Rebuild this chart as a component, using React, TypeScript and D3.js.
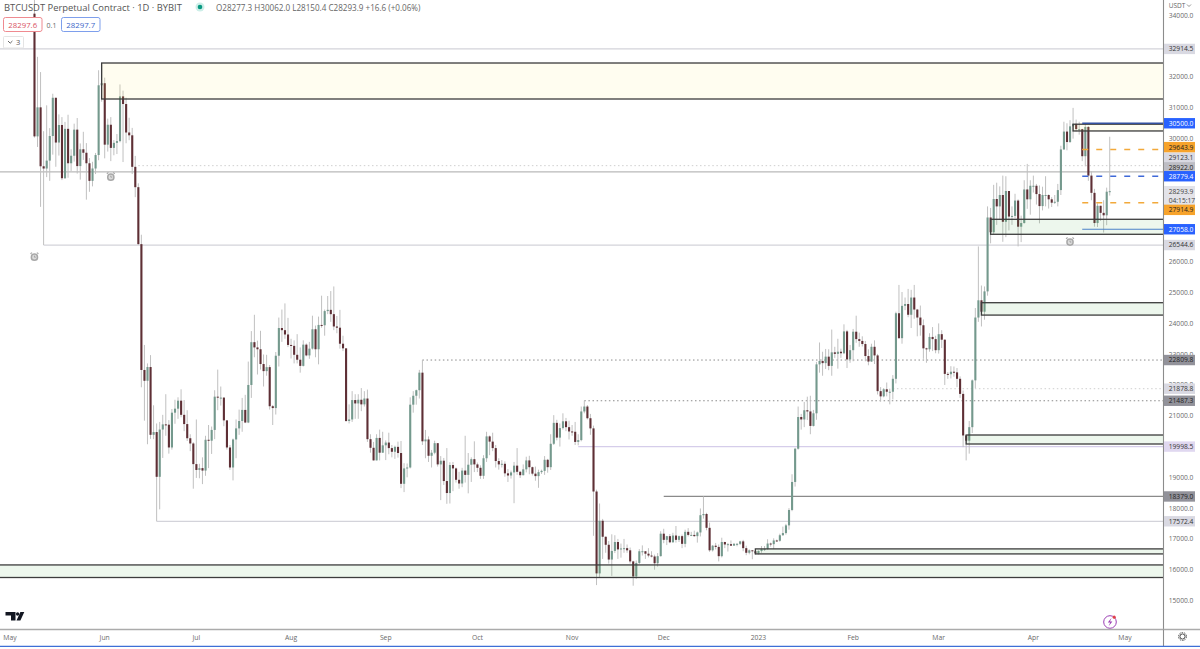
import * as d3 from "d3"

type Bar = [number, number, number] // high, low, close

const firstOpen = 34060
const firstBarDate = new Date(Date.UTC(2022, 4, 9))

const may22: Bar[] = [
  [34800, 30033, 30074], [32658, 29730, 31017], [32162, 27785, 29103], [30243, 26544.6, 29030], [31083, 28751, 29287],
  [30343, 28630, 30086], [31460, 29480, 31328], [31328, 29087, 29874], [30788, 29450, 30444], [30700, 28654, 28715],
  [30545, 28691, 30319], [30777, 28730, 29201], [29656, 28947, 29445], [30487, 29255, 30293], [30670, 28866, 29109],
  [29845, 28669, 29655], [30223, 29310, 29542], [29856, 28019, 29201], [29370, 28273, 28629], [29250, 28450, 29031],
  [29536, 28850, 29468], [32222, 29299, 31734], [32399, 31200, 31801],
]
const jun22: Bar[] = [
  [31982, 29360, 29805], [30650, 29580, 30452], [30700, 29270, 29700], [29955, 29460, 29864], [30150, 29500, 29920],
  [31760, 29880, 31373], [31560, 29240, 31125], [31330, 29850, 30200], [30680, 29950, 30109], [30350, 28850, 29085],
  [29440, 28100, 28424], [28550, 26560, 26574], [26880, 21925, 22487], [23300, 20840, 22136], [22700, 20075, 22583],
  [22970, 20250, 20381], [21340, 20240, 20471], [20750, 17572.4, 19017], [20800, 17960, 20553], [21030, 19630, 20720],
  [21700, 20350, 20710], [20860, 19770, 19970], [21220, 19900, 21100], [21520, 20740, 21230], [21600, 20900, 21490],
  [21860, 20950, 21030], [21510, 20500, 20730], [21180, 20180, 20270], [20400, 19850, 20100], [20140, 18630, 19430],
]
const jul22: Bar[] = [
  [20880, 18980, 19240], [19440, 18970, 19300], [19650, 18780, 19220], [20350, 19050, 20220], [20700, 19300, 20190],
  [20650, 19760, 20540], [21830, 20240, 21620], [22500, 21180, 21590], [21950, 21330, 21590], [21600, 20660, 20850],
  [20860, 19900, 19970], [20050, 19240, 19320], [20260, 18900, 20230], [20880, 19620, 20590], [21200, 20380, 20830],
  [21580, 20480, 21190], [21680, 20760, 20780], [22760, 20760, 22000], [23750, 21580, 23390], [24280, 22900, 23220],
  [23440, 22340, 23160], [23760, 22500, 22680], [22990, 21950, 22450], [22980, 22300, 22580], [22650, 21200, 21310],
  [21350, 20700, 21250], [23070, 21040, 22950], [24190, 22600, 23850], [24450, 23400, 23780], [24650, 23500, 23640],
  [24180, 23230, 23300],
]
const aug22: Bar[] = [
  [23500, 22860, 23270], [23450, 22700, 22980], [23650, 22700, 22820], [23220, 22400, 22620], [23450, 22600, 23310],
  [23350, 22930, 22960], [23400, 22850, 23180], [24250, 23150, 23810], [23930, 22900, 23160], [24220, 22670, 23950],
  [24900, 23860, 23940], [24450, 23600, 24400], [24890, 24300, 24440], [25050, 24050, 24300], [25200, 23780, 23900],
  [24240, 23680, 23860], [24440, 23180, 23340], [23600, 23100, 23190], [23190, 20800, 20830], [21370, 20750, 20880],
  [21800, 20800, 21510], [21700, 20900, 21400], [21700, 20900, 21520], [21900, 21150, 21370], [21800, 21300, 21560],
  [21850, 20150, 20240], [20400, 19800, 19960], [20150, 19550, 19550], [20400, 19550, 20280], [20550, 19550, 19800],
  [20480, 19800, 20040],
]
const sep22: Bar[] = [
  [20200, 19560, 20130], [20450, 19750, 19950], [20050, 19650, 19830], [20030, 19600, 19990], [20160, 19640, 19790],
  [20180, 18650, 18790], [19460, 18520, 19290], [19450, 19000, 19320], [21600, 19290, 21360], [21800, 21100, 21650],
  [21850, 21360, 21830], [22490, 21560, 22400], [22809.8, 20050, 20170], [20540, 19620, 20230], [20330, 19500, 19700],
  [19890, 19320, 19800], [20190, 19750, 20110], [20110, 19350, 19420], [19690, 18260, 19540], [19630, 18750, 18880],
  [19950, 18140, 18490], [19490, 18150, 19400], [19500, 18550, 19290], [19320, 18830, 18920], [19180, 18630, 18800],
  [19310, 18680, 19220], [20350, 18830, 19080], [19790, 18480, 19410], [19650, 18850, 19590], [20170, 19170, 19420],
]
const oct22: Bar[] = [
  [19480, 19170, 19310], [19390, 18950, 19050], [19720, 18950, 19620], [20480, 19500, 20330], [20360, 19720, 20160],
  [20450, 19850, 19950], [20050, 19320, 19530], [19620, 19250, 19420], [19560, 19320, 19440], [19520, 19020, 19130],
  [19270, 18850, 19060], [19220, 18960, 19160], [19500, 18160, 19380], [19950, 19080, 19180], [19210, 18980, 19070],
  [19420, 19060, 19260], [19670, 19160, 19550], [19700, 19100, 19330], [19350, 19060, 19120], [19350, 18890, 19040],
  [19250, 18660, 19170], [19250, 19110, 19210], [19690, 19080, 19570], [19600, 19150, 19330], [20400, 19240, 20090],
  [21020, 20050, 20770], [20870, 20200, 20290], [20750, 20000, 20600], [21080, 20550, 20820], [20930, 20500, 20630],
  [20840, 20230, 20490],
]
const nov22: Bar[] = [
  [20700, 20350, 20480], [20800, 20050, 20150], [20400, 20040, 20210], [21300, 20170, 21140], [21487.3, 21080, 21300],
  [21350, 20880, 20920], [21060, 20380, 20590], [20680, 17100, 18540], [18600, 15500, 15880], [18150, 15730, 17590],
  [17650, 16350, 17070], [17080, 16550, 16810], [16930, 16200, 16330], [17150, 15800, 16610], [17120, 16540, 16900],
  [17000, 16350, 16660], [16850, 16390, 16690], [17000, 16550, 16700], [16820, 16550, 16630], [16720, 16200, 16270],
  [16290, 15480, 15780], [16300, 15700, 16220], [16670, 16180, 16600], [16790, 16460, 16600], [16600, 16350, 16520],
  [16700, 16400, 16460], [16600, 16400, 16430], [16490, 16000, 16210], [16540, 16100, 16440], [17250, 16430, 17170],
]
const dec22: Bar[] = [
  [17330, 16860, 16970], [17100, 16800, 17090], [17160, 16860, 16890], [17200, 16880, 17110], [17420, 16880, 16970],
  [17110, 16900, 17090], [17140, 16700, 16840], [17300, 16730, 17230], [17350, 17080, 17130], [17230, 17090, 17130],
  [17270, 17070, 17090], [17240, 16880, 17210], [17990, 17080, 17770], [18379, 17660, 17810], [17850, 17280, 17360],
  [17530, 16580, 16630], [16800, 16590, 16780], [16870, 16660, 16740], [16820, 16270, 16440], [17040, 16400, 16900],
  [16910, 16700, 16820], [16870, 16590, 16830], [16950, 16780, 16780], [16870, 16790, 16840], [16870, 16760, 16840],
  [16940, 16800, 16920], [16970, 16600, 16700], [16780, 16470, 16550], [16660, 16500, 16630], [16640, 16340, 16600],
  [16630, 16480, 16530],
]
const jan23: Bar[] = [
  [16630, 16490, 16610], [16770, 16550, 16670], [16770, 16610, 16670], [16990, 16650, 16850], [16880, 16750, 16830],
  [17020, 16670, 16950], [16980, 16900, 16940], [17170, 16910, 17120], [17400, 17100, 17190], [17490, 17140, 17440],
  [18000, 17300, 17940], [19100, 17900, 18850], [19960, 18700, 19930], [21300, 19900, 20960], [21060, 20550, 20880],
  [21450, 20630, 21180], [21620, 20860, 21140], [21650, 20400, 20670], [21190, 20650, 21080], [22750, 20870, 22670],
  [23380, 22400, 22780], [23080, 22300, 22710], [23170, 22520, 22920], [23160, 22480, 22620], [23800, 22300, 23060],
  [23240, 22880, 23010], [23500, 22530, 23080], [23180, 22880, 23030], [23970, 23000, 23740], [23790, 22550, 22830],
  [23300, 22720, 23130],
]
const feb23: Bar[] = [
  [23820, 22770, 23730], [24250, 23370, 23490], [23700, 23240, 23430], [23580, 23250, 23330], [23430, 22770, 22940],
  [23160, 22640, 22760], [23340, 22750, 23240], [23450, 22680, 22960], [23010, 21690, 21800], [21930, 21460, 21630],
  [21900, 21600, 21860], [22080, 21630, 21780], [21880, 21370, 21780], [22320, 21530, 22200], [24380, 22050, 24330],
  [25250, 23500, 23520], [25020, 23340, 24570], [24840, 24430, 24630], [25120, 24200, 24280], [25090, 23850, 24840],
  [25250, 24150, 24450], [24470, 23580, 24190], [24580, 23600, 23940], [24130, 22850, 23190], [23210, 22720, 23160],
  [23680, 23080, 23560], [23880, 23100, 23490], [23600, 23030, 23130],
]
const mar23: Bar[] = [
  [24000, 23020, 23650], [23780, 23200, 23470], [23480, 22000, 22360], [22420, 22200, 22350], [22610, 22210, 22430],
  [22600, 22270, 22410], [22550, 21930, 22200], [22280, 21580, 21710], [21820, 19980, 20360], [20360, 19550, 20190],
  [20830, 19770, 20630], [22180, 20440, 22150], [24500, 21900, 24190], [26500, 24050, 24750], [25230, 23900, 24380],
  [25200, 24120, 25040], [27800, 24900, 27440], [27750, 26600, 26960], [28500, 26900, 28040], [28570, 27200, 27800],
  [28450, 27360, 28170], [28800, 26650, 27300], [28780, 26800, 28300], [28210, 27020, 27470], [27800, 27200, 27490],
  [28210, 27420, 27990], [28030, 26500, 27140], [27500, 26640, 27260], [28650, 27240, 28350], [29180, 27720, 28030],
  [28650, 27530, 28470],
]
const apr23: Bar[] = [
  [28800, 28250, 28470], [28530, 27860, 28200], [28480, 27250, 27810], [28440, 27670, 28170], [28780, 27800, 28170],
  [28190, 27730, 28030], [28100, 27780, 27920], [28170, 27880, 27950], [28530, 27800, 28330], [29770, 28170, 29650],
  [30550, 29640, 30230], [30500, 29620, 29890], [30600, 29860, 30400], [31000, 30000, 30480], [30620, 30230, 30310],
  [30550, 30130, 30310], [30320, 29270, 29430], [30480, 29100, 30380], [30410, 28630, 28800], [28950, 28000, 28240],
  [28370, 27140, 27260], [27900, 27130, 27820], [27820, 27330, 27590], [28000, 26950, 27510], [28410, 27190, 28277.3],
  [30062, 28150.4, 28293.9],
]

// drawn zones: [first day, upper price, lower price]
type Zone = [string, number, number]
const supplyZones: Zone[] = [["2022-05-31", 32457, 31288], ["2023-04-14", 30469, 30250]]
const demandZones: Zone[] = [
  ["2023-03-18", 27381, 26894],
  ["2023-03-15", 24672, 24270],
  ["2023-03-10", 20375, 20083],
  ["2022-12-31", 16676, 16513],
  ["2022-04-01", 16155, 15747],
]

// horizontal levels: [first day, price]
type Level = [string, number]
const solidLightLevels: Level[] = [["2022-04-01", 32914.5], ["2022-05-12", 26544.6], ["2022-06-18", 17572.4]]
const solidGreyLevels: Level[] = [["2022-04-01", 28922.0], ["2022-12-01", 18379.0]]
const dottedDarkLevels: Level[] = [["2022-09-13", 22809.8], ["2022-11-05", 21487.3]]
const dottedLightLevels: Level[] = [["2022-06-12", 29123.1], ["2023-02-14", 21878.8]]
const purpleLevels: Level[] = [["2022-11-03", 19998.5]]
const bluePosition: Level[] = [["2023-04-17", 30500.0], ["2023-04-17", 27058.0]]
const blueDashed: Level[] = [["2023-04-17", 28779.4]]
const orangeDashed: Level[] = [["2023-04-17", 29643.9], ["2023-04-17", 27914.9]]

const lightBadges = [32914.5, 29123.1, 26544.6, 21878.8, 17572.4]
const greyBadges = [28922.0, 22809.8, 21487.3, 18379.0]
const blueBadges = [30500.0, 28779.4, 27058.0]
const orangeBadges = [29643.9, 27914.9]
const purpleBadges = [19998.5]

// axis ticks that sit completely behind a price label in the reference
const coveredTicks = [33000, 29000, 28000, 27000, 20000]

const alarmSpots: Level[] = [["2022-06-03", 28750], ["2022-05-09", 26150], ["2023-04-13", 26640]]

const headerTitle = "BTCUSDT Perpetual Contract · 1D · BYBIT"
const headerOhlc = "O28277.3 H30062.0 L28150.4 C28293.9 +16.6 (+0.06%)"
const sellPrice = "28297.6"
const spread = "0.1"
const buyPrice = "28297.7"

const W = 1200
const H = 649
const axisX = 1163.5
const timeY = 629.5
const FONT = "'Open Sans', 'Noto Sans', sans-serif"

const y = d3.scaleLinear().domain([15000, 34000]).range([600.5, 15.5])
const x = d3
  .scaleUtc()
  .domain([new Date(Date.UTC(2022, 4, 1)), new Date(Date.UTC(2023, 4, 1))])
  .range([10, 1125])
const xd = (s: string) => x(new Date(s + "T00:00:00Z"))

const allBars = [...may22, ...jun22, ...jul22, ...aug22, ...sep22, ...oct22, ...nov22, ...dec22, ...jan23, ...feb23, ...mar23, ...apr23]
const candles = allBars.map(([high, low, close], i) => ({
  date: d3.utcDay.offset(firstBarDate, i),
  open: i === 0 ? firstOpen : allBars[i - 1][2],
  high,
  low,
  close,
}))

const UP = "#74998d"
const DOWN = "#5e2f35"
const WICK = "#c0c0c0"
const AXIS_SIZE = 6.7

// price labels that TV pushed apart so they would not overlap
const badgeShift = new Map<number, number>([
  [29643.9, -2.5],
  [29123.1, -8],
  [28922.0, -4.5],
  [27914.9, 7],
])

function Badge({ price, fill, color }: { price: number; fill: string; color: string }) {
  const cy = y(price) + (badgeShift.get(price) ?? 0)
  return (
    <g>
      <rect x={axisX + 0.5} y={cy - 5.2} width={31} height={10.4} fill={fill} />
      <text x={1168.7} y={cy + 2.4} fontSize={AXIS_SIZE} fill={color}>
        {price.toFixed(1)}
      </text>
    </g>
  )
}

function Alarm({ cx, cy }: { cx: number; cy: number }) {
  return (
    <g fill="none" stroke="#a8a8a8">
      <circle cx={cx} cy={cy} r={3.1} strokeWidth={1.5} fill="#dcdcdc" />
      <path d={`M${cx},${cy - 1.6}v1.6h1.4`} stroke="#8f8f8f" strokeWidth={0.7} />
      <path d={`M${cx - 4},${cy - 3.4}l1.6,-1.2M${cx + 4},${cy - 3.4}l-1.6,-1.2`} strokeWidth={1.1} />
    </g>
  )
}

function levelLine(lv: Level, stroke: string, width: number, dash?: string) {
  return (
    <line
      key={`${lv[0]}-${lv[1]}`}
      x1={xd(lv[0])}
      x2={axisX}
      y1={y(lv[1])}
      y2={y(lv[1])}
      stroke={stroke}
      strokeWidth={width}
      strokeDasharray={dash}
    />
  )
}

function zoneRect(z: Zone, fill: string, opacity: number) {
  return (
    <rect
      key={`${z[0]}-${z[1]}`}
      x={xd(z[0])}
      y={y(z[1])}
      width={axisX + 6 - xd(z[0])}
      height={y(z[2]) - y(z[1])}
      fill={fill}
      fillOpacity={opacity}
      stroke="#3c3c3c"
      strokeWidth={1.3}
    />
  )
}

export default function App() {
  const priceTicks = y.ticks(19).filter((t) => !coveredTicks.includes(t))
  const monthTicks = d3.utcMonth.range(x.domain()[0], d3.utcDay.offset(x.domain()[1], 1))
  const monthLabel = (d: Date) => (d.getUTCMonth() === 0 ? String(d.getUTCFullYear()) : d3.utcFormat("%b")(d))

  return (
    <svg width={W} height={H} style={{ position: "fixed", left: 0, top: 0, background: "#fff" }} fontFamily={FONT}>
      <defs>
        <clipPath id="plot">
          <rect x={0} y={0} width={axisX} height={timeY} />
        </clipPath>
      </defs>

      <g clipPath="url(#plot)">
        {/* levels under the candles */}
        {solidLightLevels.map((l) => levelLine(l, "#d3d3da", 1.3))}
        {solidGreyLevels.map((l) => levelLine(l, l[1] > 20000 ? "#b9b9b9" : "#8a8a8a", 1.2))}
        {dottedDarkLevels.map((l) => levelLine(l, "#8a8a8a", 1, "1.5 2.6"))}
        {dottedLightLevels.map((l) => levelLine(l, "#cfcfcf", 1, "1.5 2.6"))}
        {purpleLevels.map((l) => levelLine(l, "#d5cdea", 1.4))}

        {candles.map((c) => {
          const cx = x(c.date)
          const up = c.close >= c.open
          const top = y(Math.max(c.open, c.close))
          const bottom = y(Math.min(c.open, c.close))
          return (
            <g key={+c.date}>
              <line x1={cx} x2={cx} y1={y(c.high)} y2={y(c.low)} stroke={WICK} strokeWidth={1} />
              <rect x={cx - 1} y={top} width={2.1} height={Math.max(bottom - top, 1)} fill={up ? UP : DOWN} />
            </g>
          )
        })}

        {supplyZones.map((z) => zoneRect(z, "#ffe96a", 0.1))}
        {demandZones.map((z) => zoneRect(z, "#4caf50", 0.1))}

        {bluePosition.map((l) => levelLine(l, l[1] > 29000 ? "#33509f" : "#4b82c8", l[1] > 29000 ? 1.6 : 1.2))}
        {blueDashed.map((l) => levelLine(l, "#3f69d8", 1.3, "6 8"))}
        {orangeDashed.map((l) => levelLine(l, "#f2a93b", 1.5, "6 8"))}

        {alarmSpots.map((a) => (
          <Alarm key={a[0]} cx={xd(a[0])} cy={y(a[1])} />
        ))}
      </g>

      {/* header */}
      <text x={4} y={10.5} fontSize={9.4} fill="#555">
        {headerTitle}
      </text>
      <circle cx={200} cy={7} r={4.5} fill="#cdeee8" />
      <circle cx={200} cy={7} r={2.3} fill="#089981" />
      <text x={216} y={10.5} fontSize={8.1} fill="#666">
        {headerOhlc}
      </text>
      <rect x={3.5} y={17.5} width={38.5} height={14} rx={2} fill="#fff" stroke="#ef8a90" />
      <text x={22.7} y={27.5} fontSize={7.8} fill="#d9535f" textAnchor="middle">
        {sellPrice}
      </text>
      <text x={51.5} y={27.5} fontSize={7} fill="#666" textAnchor="middle">
        {spread}
      </text>
      <rect x={61.5} y={17.5} width={38.5} height={14} rx={2} fill="#fff" stroke="#7e9fec" />
      <text x={80.7} y={27.5} fontSize={7.8} fill="#3b66c9" textAnchor="middle">
        {buyPrice}
      </text>
      <rect x={3.5} y={36.5} width={20} height={11.5} rx={1} fill="#fff" stroke="#e4e4e4" />
      <path d="M8,41l2.2,2.2l2.2,-2.2" fill="none" stroke="#555" strokeWidth={0.9} />
      <text x={16} y={45} fontSize={7.5} fill="#555">
        3
      </text>

      {/* TV logo */}
      <path d="M5.5,612H15.5V620.5H11V615.5H5.5ZM16.5,620.5L20.4,612H24.3L20.4,620.5Z" fill="#131722" />
      <circle cx={17.6} cy={614} r={1.7} fill="#131722" />

      {/* lightning */}
      <circle cx={1110} cy={622} r={6.3} fill="#fff" stroke="#9c3fb5" strokeWidth={1} />
      <path d="M1111.6,617.8l-3.8,4.6h2.4l-1.6,3.8l3.8,-4.6h-2.4Z" fill="#9c3fb5" />
      <circle cx={1114.2} cy={617.2} r={1.6} fill="#e0404a" />

      {/* price scale */}
      <rect x={axisX} y={0} width={W - axisX} height={H} fill="#fff" />
      <line x1={axisX} x2={axisX} y1={0} y2={646} stroke="#8c8c8c" strokeWidth={1.1} />
      <text x={1168.7} y={7.5} fontSize={6.5} fill="#666">
        USDT
      </text>
      <path d="M1187,4.5l2,2l2,-2" fill="none" stroke="#777" strokeWidth={0.8} />
      {priceTicks.map((t) => (
        <text key={t} x={1168.7} y={y(t) + 2.4} fontSize={AXIS_SIZE} fill="#6a6a6a">
          {t.toFixed(1)}
        </text>
      ))}
      {lightBadges.map((p) => (
        <Badge key={p} price={p} fill="#d9d9e2" color="#333" />
      ))}
      {greyBadges.map((p) => (
        <Badge key={p} price={p} fill={p === 28922.0 ? "#bdbdc4" : "#92929a"} color="#222" />
      ))}
      {purpleBadges.map((p) => (
        <Badge key={p} price={p} fill="#e0d8f0" color="#333" />
      ))}
      {/* last price + countdown */}
      <rect x={axisX + 0.5} y={186} width={31} height={19.5} fill="#e3e3e9" />
      <text x={1168.7} y={193.6} fontSize={AXIS_SIZE} fill="#444">
        28293.9
      </text>
      <text x={1168.7} y={202.6} fontSize={AXIS_SIZE} fill="#444">
        04:15:17
      </text>
      {blueBadges.map((p) => (
        <Badge key={p} price={p} fill="#2962ff" color="#fff" />
      ))}
      {orangeBadges.map((p) => (
        <Badge key={p} price={p} fill="#f7a32b" color="#222" />
      ))}

      {/* time scale */}
      <rect x={0} y={timeY} width={W} height={H - timeY} fill="#fff" />
      <line x1={0} x2={W} y1={timeY} y2={timeY} stroke="#ababab" strokeWidth={1.3} />
      <line x1={axisX} x2={axisX} y1={timeY} y2={646} stroke="#8c8c8c" strokeWidth={1.1} />
      {monthTicks.map((d) => (
        <text key={+d} x={x(d)} y={640} fontSize={6.8} fill="#6a6a6a" textAnchor="middle">
          {monthLabel(d)}
        </text>
      ))}
      <g fill="none" stroke="#444">
        <circle cx={1182.5} cy={636.5} r={2.6} strokeWidth={1} />
        <circle cx={1182.5} cy={636.5} r={4} strokeWidth={0.9} strokeDasharray="1.5 1" />
      </g>
      <line x1={0} x2={W} y1={646.3} y2={646.3} stroke="#3d6fd6" strokeWidth={1.2} />
    </svg>
  )
}
